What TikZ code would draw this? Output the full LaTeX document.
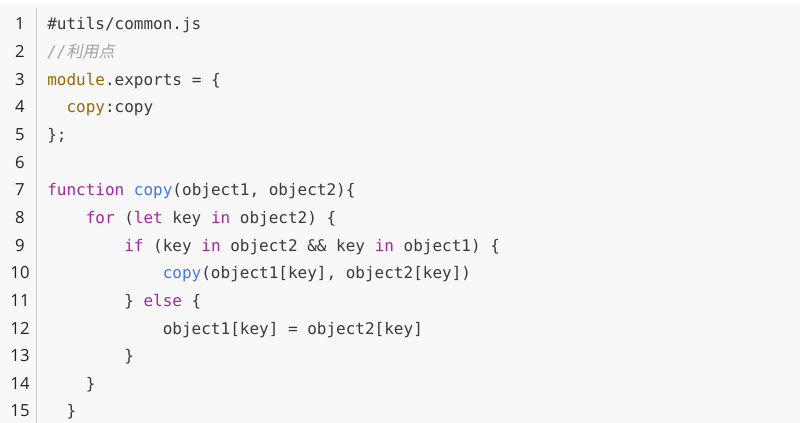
\documentclass[tikz,border=0pt]{standalone}
\usepackage{fontspec}
\setmonofont{DejaVu Sans Mono}
\setmainfont{DejaVu Sans}
\newfontfamily\cjk[FakeSlant=0.2]{Noto Sans CJK SC}
\newfontfamily\numfont{Open Sans}
\definecolor{bgc}{HTML}{F8F8F8}
\definecolor{kw}{HTML}{A626A4}
\definecolor{fn}{HTML}{4078F2}
\definecolor{at}{HTML}{986801}
\definecolor{cm}{HTML}{A0A1A7}
\definecolor{tx}{HTML}{383A42}
\definecolor{ln}{HTML}{222222}
\newcommand{\KW}[1]{\textcolor{kw}{#1}}
\newcommand{\FN}[1]{\textcolor{fn}{#1}}
\newcommand{\AT}[1]{\textcolor{at}{#1}}
\newcommand{\codeline}[3]{\node[code] (l#1) at ({47+#2*9.63},{30+(#1-1)*27.64}) {\strut #3};}
\begin{document}
\begin{tikzpicture}[x=0.75pt,y=-0.75pt,
  code/.style={anchor=base west,inner sep=0pt,font=\fontsize{12}{14}\ttfamily,text=tx},
  lnum/.style={anchor=base,inner sep=0pt,font=\fontsize{12.5}{14}\numfont,text=ln}]
\useasboundingbox (0,0) rectangle (800,423);
\fill[white] (0,0) rectangle (800,423);
\fill[bgc] (0,5) rectangle (800,423);
\draw[gray!40,line width=0.75pt] (36,8) -- (36,423);
\foreach \i in {1,...,15}{
  \node[lnum] (n\i) at (20,{30+(\i-1)*27.64}) {\i};
}
\codeline{1}{0}{\#utils/common.js}
\codeline{2}{0}{\textcolor{cm}{\itshape //{\cjk 利用点}}}
\codeline{3}{0}{\AT{module}.exports = \{}
\codeline{4}{2}{\AT{copy}:copy}
\codeline{5}{0}{\};}
\codeline{7}{0}{\KW{function} \FN{copy}(object1, object2)\{}
\codeline{8}{4}{\KW{for} (\KW{let} key \KW{in} object2) \{}
\codeline{9}{8}{\KW{if} (key \KW{in} object2 \&\& key \KW{in} object1) \{}
\codeline{10}{12}{\FN{copy}(object1[key], object2[key])}
\codeline{11}{8}{\} \KW{else} \{}
\codeline{12}{12}{object1[key] = object2[key]}
\codeline{13}{8}{\}}
\codeline{14}{4}{\}}
\codeline{15}{2}{\}}
\end{tikzpicture}
\end{document}
